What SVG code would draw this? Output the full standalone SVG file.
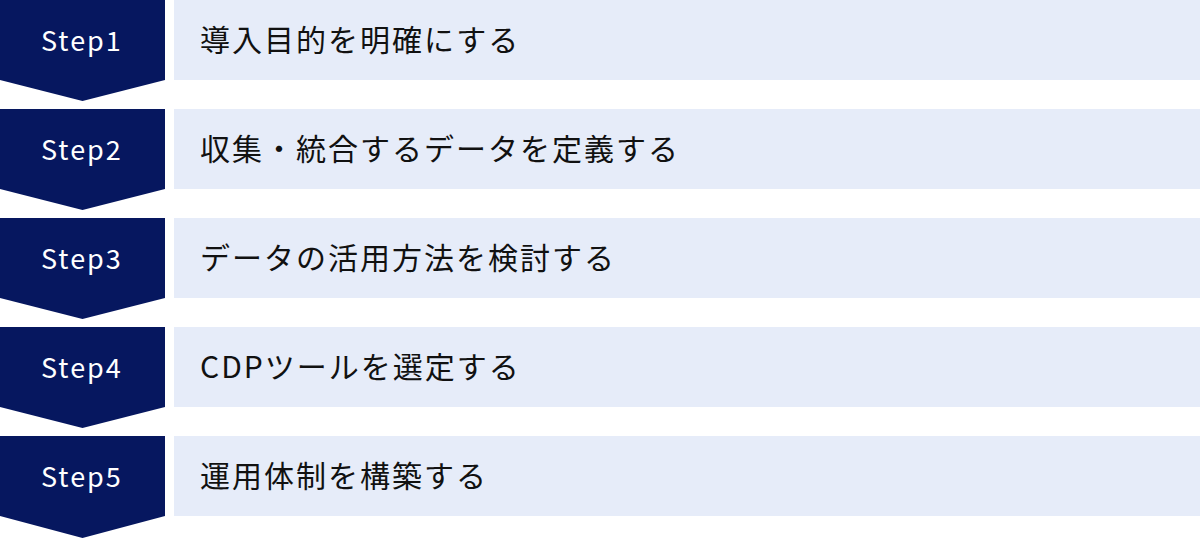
<svg xmlns="http://www.w3.org/2000/svg" width="1200" height="538" viewBox="0 0 1200 538">
<style>
.chev{fill:#06175F}
.box{fill:#E6ECF9}
.step{font-family:"Noto Sans CJK JP","Noto Sans",sans-serif;font-size:27px;fill:#FFFFFF;letter-spacing:2px}
.lbl{font-family:"Noto Sans CJK JP","Noto Sans",sans-serif;font-size:30px;fill:#111111;letter-spacing:2px}
</style>
<g id="connectors"></g>
<g id="step1">
<polygon class="chev" points="0,0 165,0 165,80 82.5,101 0,80"/>
<rect class="box" x="174" y="0" width="1026" height="80"/>
<text class="step" x="41" y="51">Step1</text>
<text class="lbl" x="200" y="51">導入目的を明確にする</text>
</g>
<g id="step2">
<polygon class="chev" points="0,109 165,109 165,189 82.5,210 0,189"/>
<rect class="box" x="174" y="109" width="1026" height="80"/>
<text class="step" x="41" y="160">Step2</text>
<text class="lbl" x="200" y="160">収集・統合するデータを定義する</text>
</g>
<g id="step3">
<polygon class="chev" points="0,218 165,218 165,298 82.5,319 0,298"/>
<rect class="box" x="174" y="218" width="1026" height="80"/>
<text class="step" x="41" y="269">Step3</text>
<text class="lbl" x="200" y="269">データの活用方法を検討する</text>
</g>
<g id="step4">
<polygon class="chev" points="0,327 165,327 165,407 82.5,428 0,407"/>
<rect class="box" x="174" y="327" width="1026" height="80"/>
<text class="step" x="41" y="378">Step4</text>
<text class="lbl" x="200" y="378">CDPツールを選定する</text>
</g>
<g id="step5">
<polygon class="chev" points="0,436 165,436 165,516 82.5,538 0,516"/>
<rect class="box" x="174" y="436" width="1026" height="80"/>
<text class="step" x="41" y="487">Step5</text>
<text class="lbl" x="200" y="487">運用体制を構築する</text>
</g>
</svg>
